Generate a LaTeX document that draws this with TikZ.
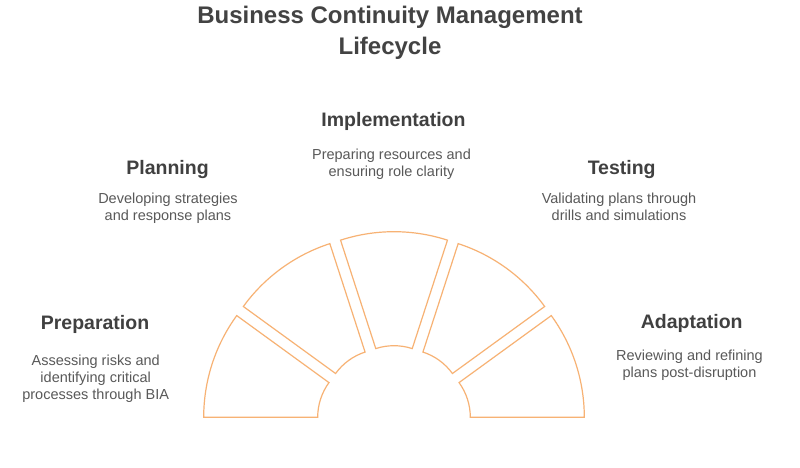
\documentclass[tikz,border=0pt]{standalone}
\usepackage{fontspec}
\setmainfont{Liberation Sans}
\usetikzlibrary{calc}
\definecolor{segline}{RGB}{247,178,116}
\definecolor{titlecol}{RGB}{67,67,67}
\definecolor{labelcol}{RGB}{64,64,64}
\definecolor{desccol}{RGB}{89,89,89}
\tikzset{
  seg/.style={draw=segline, line width=1.2pt, line join=miter, fill=white},
  ttl/.style={font=\bfseries\fontsize{24}{31}\selectfont, text=titlecol, align=center, inner sep=0pt, anchor=base},
  lbl/.style={font=\bfseries\fontsize{19.5}{23}\selectfont, text=labelcol, inner sep=0pt, anchor=base},
  desc/.style={font=\fontsize{14.5}{17}\selectfont, text=desccol, align=center, inner sep=0pt, anchor=base}
}
\begin{document}
\begin{tikzpicture}[x=1pt,y=1pt]
\useasboundingbox (0,0) rectangle (800,467);
\fill[white] (0,0) rectangle (800,467);
\coordinate (C) at (394,44.1);
\foreach \i in {0,...,4} {
  \pgfmathsetmacro\aone{144-36*\i}
  \pgfmathsetmacro\atwo{180-36*\i}
  \pgfmathsetmacro\bis{162-36*\i}
  \coordinate (O\i) at ($(C)+(\bis:18.2)$);
  \draw[seg] ($(O\i)+(\aone:173)$) arc[start angle=\aone, end angle=\atwo, radius=173]
    -- ($(O\i)+(\atwo:59)$) arc[start angle=\atwo, end angle=\aone, radius=59] -- cycle;
}
% anchor=base of a multi-line node is the baseline of its last line
\node[ttl] (title) at (390,412) {Business Continuity Management\\Lifecycle};
\node[lbl] (impl) at (393.5,341) {Implementation};
\node[desc] (impld) at (391.5,290.5) {Preparing resources and\\ensuring role clarity};
\node[lbl] (plan) at (167.5,293) {Planning};
\node[desc] (pland) at (168,247) {Developing strategies\\and response plans};
\node[lbl] (test) at (621.7,293) {Testing};
\node[desc] (testd) at (619,247) {Validating plans through\\drills and simulations};
\node[lbl] (prep) at (95,138) {Preparation};
\node[desc] (prepd) at (95.7,67.7) {Assessing risks and\\identifying critical\\processes through BIA};
\node[lbl] (adap) at (691.7,138.7) {Adaptation};
\node[desc] (adapd) at (689.5,89.3) {Reviewing and refining\\plans post-disruption};
\end{tikzpicture}
\end{document}
